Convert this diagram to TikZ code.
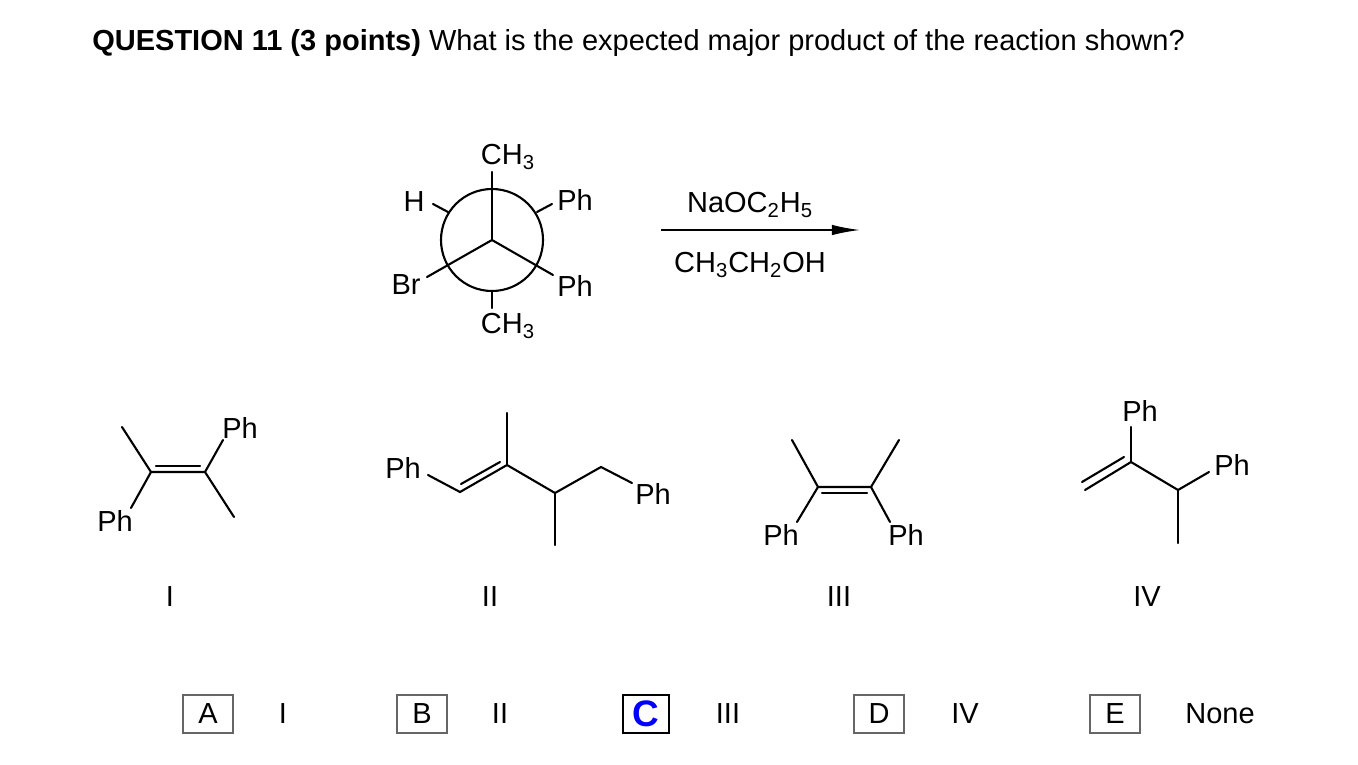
\documentclass[tikz,border=0pt]{standalone}
\usepackage{fontspec}
\setmainfont{Liberation Sans}
\usetikzlibrary{arrows.meta}

\begin{document}
\begin{tikzpicture}[x=0.02cm, y=-0.02cm, font=\fontsize{16.5}{18}\selectfont]

	\tikzstyle{bond} = [line width=1.2pt, line cap=round]
	\tikzstyle{atom} = [inner sep=0pt, anchor=center]
	\tikzstyle{choice} = [draw=black!60, line width=0.6pt, minimum width=50*0.02cm, minimum height=38*0.02cm, inner sep=0pt]

	\useasboundingbox (0,0) rectangle (1358,764);

%------------------------------------------------------------
	\node[anchor=base west, inner sep=0pt] (title) at (92,50) {\textbf{QUESTION 11 (3 points)} What is the expected major product of the reaction shown?};

%------------------------------------------------------------
	\coordinate (nc) at (492,240);
	\draw[bond] (nc) circle [radius=51];
	\coordinate (fm) at (492,172);
	\coordinate (fbr) at (427,277);
	\coordinate (fph) at (553,275);
	\draw[bond] (nc) -- (fm);
	\draw[bond] (nc) -- (fbr);
	\draw[bond] (nc) -- (fph);
	\coordinate (bh1) at (448,212);   \coordinate (bh2) at (433,204);
	\coordinate (bp1) at (537,212);   \coordinate (bp2) at (552,204);
	\coordinate (bm1) at (492,291);   \coordinate (bm2) at (492,308);
	\draw[bond] (bh1) -- (bh2);
	\draw[bond] (bp1) -- (bp2);
	\draw[bond] (bm1) -- (bm2);
	\node[atom] (nme1) at (508,157) {CH\textsubscript{3}};
	\node[atom] (nh) at (414,202) {H};
	\node[atom] (nph1) at (575,200) {Ph};
	\node[atom] (nbr) at (406,285) {Br};
	\node[atom] (nph2) at (575,286) {Ph};
	\node[atom] (nme2) at (508,326) {CH\textsubscript{3}};

%------------------------------------------------------------
	\coordinate (a1) at (661,230);
	\coordinate (a2) at (860,230);
	\draw[line width=1pt, -{Latex[length=16pt, width=6pt]}] (a1) -- (a2);
	\node[atom] (reag) at (750,205) {NaOC\textsubscript{2}H\textsubscript{5}};
	\node[atom] (solv) at (750,265) {CH\textsubscript{3}CH\textsubscript{2}OH};

%------------------------------------------------------------ I
	\coordinate (i1) at (122,427);  \coordinate (i2) at (151,472);
	\coordinate (i3) at (205,472);  \coordinate (i4) at (223,440);
	\coordinate (i5) at (234,517);  \coordinate (i6) at (131,508);
	\coordinate (i7) at (156,466);  \coordinate (i8) at (200,466);
	\draw[bond] (i1) -- (i2) -- (i3) -- (i4);
	\draw[bond] (i3) -- (i5);
	\draw[bond] (i2) -- (i6);
	\draw[bond] (i7) -- (i8);
	\node[atom] (iph1) at (240,428) {Ph};
	\node[atom] (iph2) at (115,521) {Ph};
	\node[atom] (lab1) at (170,597) {I};

%------------------------------------------------------------ II
	\coordinate (j1) at (428,475);  \coordinate (j2) at (460,492);
	\coordinate (j3) at (507,465);  \coordinate (j4) at (507,413);
	\coordinate (j5) at (555,493);  \coordinate (j6) at (555,545);
	\coordinate (j7) at (601,467);  \coordinate (j8) at (632,483);
	\coordinate (j9) at (461,484);  \coordinate (j10) at (500,462);
	\draw[bond] (j1) -- (j2) -- (j3) -- (j5) -- (j7) -- (j8);
	\draw[bond] (j3) -- (j4);
	\draw[bond] (j5) -- (j6);
	\draw[bond] (j9) -- (j10);
	\node[atom] (jph1) at (403,468) {Ph};
	\node[atom] (jph2) at (653,494) {Ph};
	\node[atom] (lab2) at (490,597) {II};

%------------------------------------------------------------ III
	\coordinate (k1) at (792,440);  \coordinate (k2) at (818,487);
	\coordinate (k3) at (871,487);  \coordinate (k4) at (899,440);
	\coordinate (k5) at (797,522);  \coordinate (k6) at (890,522);
	\coordinate (k7) at (822,493);  \coordinate (k8) at (867,493);
	\draw[bond] (k1) -- (k2) -- (k3) -- (k4);
	\draw[bond] (k2) -- (k5);
	\draw[bond] (k3) -- (k6);
	\draw[bond] (k7) -- (k8);
	\node[atom] (kph1) at (781,535) {Ph};
	\node[atom] (kph2) at (906,535) {Ph};
	\node[atom] (lab3) at (839,597) {III};

%------------------------------------------------------------ IV
	\coordinate (m1) at (1085,490); \coordinate (m2) at (1131,462);
	\coordinate (m3) at (1131,427); \coordinate (m4) at (1178,490);
	\coordinate (m5) at (1178,543); \coordinate (m6) at (1209,472);
	\coordinate (m7) at (1082,482); \coordinate (m8) at (1124,457);
	\draw[bond] (m1) -- (m2) -- (m4) -- (m6);
	\draw[bond] (m2) -- (m3);
	\draw[bond] (m4) -- (m5);
	\draw[bond] (m7) -- (m8);
	\node[atom] (mph1) at (1140,411) {Ph};
	\node[atom] (mph2) at (1232,465) {Ph};
	\node[atom] (lab4) at (1147,597) {IV};

%------------------------------------------------------------
	\node[choice] (ca) at (208,714) {A};
	\node[atom] (ta) at (283,714) {I};
	\node[choice] (cb) at (422,714) {B};
	\node[atom] (tb) at (500,714) {II};
	\node[choice, draw=black, line width=1.4pt, minimum width=46*0.02cm, text=blue] (cc) at (646,714) {\fontsize{21}{23}\selectfont\textbf{C}};
	\node[atom] (tc) at (728,714) {III};
	\node[choice] (cd) at (879,714) {D};
	\node[atom] (td) at (965,714) {IV};
	\node[choice] (ce) at (1115,714) {E};
	\node[atom] (te) at (1220,714) {None};

\end{tikzpicture}
\end{document}
